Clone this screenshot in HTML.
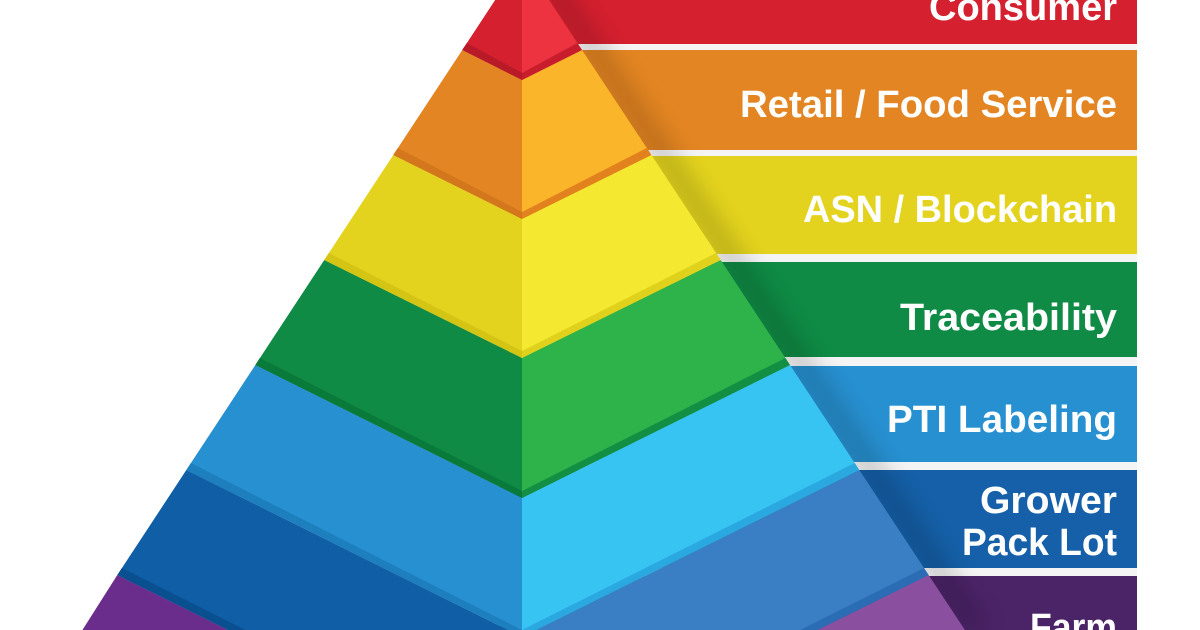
<!DOCTYPE html>
<html><head><meta charset="utf-8"><style>html,body{margin:0;padding:0;background:#fff;overflow:hidden;width:1200px;height:630px}svg{display:block}</style></head>
<body>
<svg width="1200" height="630" viewBox="0 0 1200 630" xmlns="http://www.w3.org/2000/svg" overflow="hidden">
<defs>
<filter id="bl" x="-20%" y="-20%" width="140%" height="140%"><feGaussianBlur stdDeviation="12"/></filter>
<clipPath id="bars"><rect x="500" y="0" width="637" height="630"/></clipPath>
</defs>
<rect width="1200" height="630" fill="#fff"/>
<!-- bars -->
<rect x="500" y="0" width="637" height="630" fill="#f4f4f4"/>
<rect x="500" y="0" width="637" height="44" fill="#d4202f"/>
<rect x="500" y="50" width="637" height="100" fill="#e38522"/>
<rect x="500" y="156" width="637" height="98" fill="#e3d31e"/>
<rect x="500" y="262" width="637" height="95" fill="#0f8b45"/>
<rect x="500" y="366" width="637" height="96" fill="#2790d0"/>
<rect x="500" y="470" width="637" height="98" fill="#1560a8"/>
<rect x="500" y="576" width="637" height="54" fill="#4b2468"/>
<!-- shadow -->
<g clip-path="url(#bars)"><polygon points="522,-41 545,-41 990,630 965,630" fill="#000" opacity="0.2" filter="url(#bl)"/></g>
<!-- pyramid left faces -->
<polygon points="522,-41 462.2,50 522,80" fill="#d4202f"/>
<polygon points="462.2,50 522,80 522,219 393.2,155" fill="#e38522"/>
<polygon points="393.2,155 522,219 522,358 324.2,260" fill="#e3d31e"/>
<polygon points="324.2,260 522,358 522,498 255.3,365" fill="#0f8b45"/>
<polygon points="255.3,365 522,498 522,637 186.3,470" fill="#2790d0"/>
<polygon points="186.3,470 522,637 522,776 117.3,575" fill="#0f5ea6"/>
<polygon points="117.3,575 522,776 522,800 0,800 0,760" fill="#6b2d8c"/>
<!-- right faces -->
<polygon points="522,-41 582,50 522,80" fill="#ee3340"/>
<polygon points="582,50 522,80 522,219 651.4,155" fill="#fbb52a"/>
<polygon points="651.4,155 522,219 522,358 720.7,260" fill="#f4e831"/>
<polygon points="720.7,260 522,358 522,498 790,365" fill="#2eb34a"/>
<polygon points="790,365 522,498 522,637 859.3,470" fill="#38c4f2"/>
<polygon points="859.3,470 522,637 522,776 928.6,575" fill="#3a7fc4"/>
<polygon points="928.6,575 522,776 522,800 1000,800 964.9,630" fill="#8a4f9f"/>
<!-- white mask outside pyramid (left) -->
<polygon points="522,-41 81,630 0,630 0,-41" fill="#fff"/>
<!-- stripes left -->
<g>
<polygon points="466.8,43 522,73 522,80 462.2,50" fill="#b81a28"/>
<polygon points="397.8,148 522,212 522,219 393.2,155" fill="#d4761c"/>
<polygon points="328.8,253 522,351 522,358 324.2,260" fill="#d4c414"/>
<polygon points="259.9,358 522,491 522,498 255.3,365" fill="#0a7a3a"/>
<polygon points="190.9,463 522,630 522,637 186.3,470" fill="#1e7fbf"/>
<polygon points="121.9,568 522,769 522,776 117.3,575" fill="#0a4f90"/>
<polygon points="577.4,43 522,73 522,80 582,50" fill="#c81d2c"/>
<polygon points="646.8,148 522,212 522,219 651.4,155" fill="#e2821f"/>
<polygon points="716.1,253 522,351 522,358 720.7,260" fill="#e0d21c"/>
<polygon points="785.4,358 522,491 522,498 790,365" fill="#138f44"/>
<polygon points="854.7,463 522,630 522,637 859.3,470" fill="#2aa8e0"/>
<polygon points="924,568 522,769 522,776 928.6,575" fill="#2b6db4"/>
</g>
<!-- labels -->
<g font-family="Liberation Sans, sans-serif" font-weight="bold" fill="#fff" font-size="38" text-anchor="end">
<text x="1117" y="20" textLength="188" lengthAdjust="spacingAndGlyphs">Consumer</text>
<text x="1117" y="117" textLength="377" lengthAdjust="spacingAndGlyphs">Retail / Food Service</text>
<text x="1117" y="222" textLength="314" lengthAdjust="spacingAndGlyphs">ASN / Blockchain</text>
<text x="1117" y="330" textLength="217" lengthAdjust="spacingAndGlyphs">Traceability</text>
<text x="1117" y="432" textLength="230" lengthAdjust="spacingAndGlyphs">PTI Labeling</text>
<text x="1117" y="513" textLength="137" lengthAdjust="spacingAndGlyphs">Grower</text>
<text x="1117" y="555" textLength="155" lengthAdjust="spacingAndGlyphs">Pack Lot</text>
<text x="1117" y="640" textLength="87" lengthAdjust="spacingAndGlyphs">Farm</text>
</g>
</svg>
</body></html>
